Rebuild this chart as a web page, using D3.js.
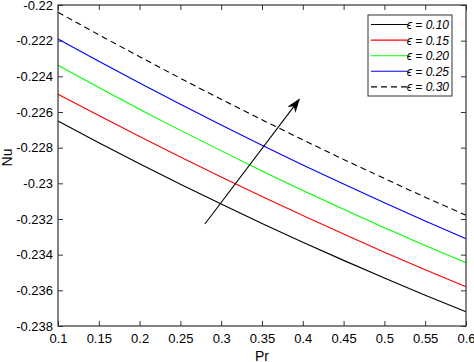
<!DOCTYPE html>
<html>
<head>
<meta charset="utf-8">
<script src="https://cdn.jsdelivr.net/npm/d3@7"></script>
<style>
  body { margin: 0; background: #fff; }
  svg { display: block; font-family: "Liberation Sans", Arial, sans-serif; }
</style>
</head>
<body>
<svg id="chart" width="474" height="362"></svg>
<script>
// Pr values
var pr = [0.1, 0.15, 0.2, 0.25, 0.3, 0.35, 0.4, 0.45, 0.5, 0.55, 0.6];

// Nu for each epsilon
var nuEps010 = [-0.22651, -0.22772, -0.22890, -0.23005, -0.23116, -0.23225, -0.23330, -0.23432, -0.23531, -0.23627, -0.23720];
var nuEps015 = [-0.22500, -0.22620, -0.22738, -0.22852, -0.22964, -0.23074, -0.23180, -0.23284, -0.23386, -0.23484, -0.23580];
var nuEps020 = [-0.22338, -0.22463, -0.22584, -0.22703, -0.22818, -0.22931, -0.23040, -0.23146, -0.23249, -0.23349, -0.23445];
var nuEps025 = [-0.22191, -0.22316, -0.22437, -0.22556, -0.22673, -0.22786, -0.22897, -0.23004, -0.23109, -0.23211, -0.23311];
var nuEps030 = [-0.22041, -0.22167, -0.22290, -0.22411, -0.22529, -0.22644, -0.22756, -0.22866, -0.22973, -0.23078, -0.23179];

var seriesNames = ["\u03f5 = 0.10", "\u03f5 = 0.15", "\u03f5 = 0.20", "\u03f5 = 0.25", "\u03f5 = 0.30"];

var xTicks = [0.1, 0.15, 0.2, 0.25, 0.3, 0.35, 0.4, 0.45, 0.5, 0.55, 0.6];
var yTicks = [-0.238, -0.236, -0.234, -0.232, -0.23, -0.228, -0.226, -0.224, -0.222, -0.22];

// arrow annotation (data coords): tail -> head
var arrowFrom = [0.28, -0.23228];
var arrowTo = [0.3957, -0.22529];

var series = [
    { name: seriesNames[0], values: nuEps010, color: "#000000", dash: null },
    { name: seriesNames[1], values: nuEps015, color: "#ff0000", dash: null },
    { name: seriesNames[2], values: nuEps020, color: "#00ff00", dash: null },
    { name: seriesNames[3], values: nuEps025, color: "#0000ff", dash: null },
    { name: seriesNames[4], values: nuEps030, color: "#000000", dash: "6,4" }
];

var svg = d3.select("#chart");
var margin = { top: 5, right: 8, bottom: 36, left: 58 };
var width = +svg.attr("width") - margin.left - margin.right;
var height = +svg.attr("height") - margin.top - margin.bottom;
var g = svg.append("g").attr("transform", "translate(" + margin.left + "," + margin.top + ")");

var x = d3.scaleLinear().domain([0.1, 0.6]).range([0, width]);
var y = d3.scaleLinear().domain([-0.238, -0.22]).range([height, 0]);

var axisColor = "#333";
var fmt = function(d) { return String(+d.toFixed(3)); };

function styleAxis(sel) {
    sel.select(".domain").remove();
    sel.selectAll(".tick line").attr("stroke", axisColor);
    sel.selectAll(".tick text").attr("fill", "#000").style("font-size", "13px");
}

// bottom axis
g.append("g")
    .attr("transform", "translate(0," + height + ")")
    .call(d3.axisBottom(x).tickValues(xTicks).tickFormat(fmt).tickSizeInner(-5).tickSizeOuter(0).tickPadding(8))
    .call(styleAxis);

// top axis (ticks only)
g.append("g")
    .call(d3.axisTop(x).tickValues(xTicks).tickFormat("").tickSizeInner(-5).tickSizeOuter(0))
    .call(styleAxis);

// left axis
g.append("g")
    .call(d3.axisLeft(y).tickValues(yTicks).tickFormat(fmt).tickSizeInner(-5).tickSizeOuter(0).tickPadding(5))
    .call(styleAxis);

// right axis (ticks only)
g.append("g")
    .attr("transform", "translate(" + width + ",0)")
    .call(d3.axisRight(y).tickValues(yTicks).tickFormat("").tickSizeInner(-5).tickSizeOuter(0))
    .call(styleAxis);

// Curves
var line = d3.line()
    .x(function(d, i) { return x(pr[i]); })
    .y(function(d) { return y(d); });

series.forEach(function(s) {
    g.append("path")
        .datum(s.values)
        .attr("fill", "none")
        .attr("stroke", s.color)
        .attr("stroke-width", 1.1)
        .attr("stroke-dasharray", s.dash)
        .attr("d", line);
});

// Frame
g.append("rect")
    .attr("width", width)
    .attr("height", height)
    .attr("fill", "none")
    .attr("stroke", axisColor)
    .attr("stroke-width", 1.2);

// Arrow
svg.append("defs").append("marker")
    .attr("id", "head")
    .attr("viewBox", "0 0 14 10")
    .attr("refX", 13)
    .attr("refY", 5)
    .attr("markerWidth", 14)
    .attr("markerHeight", 10)
    .attr("markerUnits", "userSpaceOnUse")
    .attr("orient", "auto")
    .append("path")
    .attr("d", "M0,0 L14,5 L0,10 L4,5 Z")
    .attr("fill", "#000");

g.append("line")
    .attr("x1", x(arrowFrom[0]))
    .attr("y1", y(arrowFrom[1]))
    .attr("x2", x(arrowTo[0]))
    .attr("y2", y(arrowTo[1]))
    .attr("stroke", "#000")
    .attr("stroke-width", 1.1)
    .attr("marker-end", "url(#head)");

// Legend
var legend = svg.append("g").attr("transform", "translate(368,15)");
legend.append("rect")
    .attr("width", 84)
    .attr("height", 81)
    .attr("fill", "#fff")
    .attr("stroke", axisColor)
    .attr("stroke-width", 1);

series.forEach(function(s, i) {
    var row = legend.append("g").attr("transform", "translate(0," + (9.5 + i * 15.6) + ")");
    row.append("line")
        .attr("x1", 3).attr("x2", 40)
        .attr("stroke", s.color)
        .attr("stroke-width", 1.1)
        .attr("stroke-dasharray", s.dash);
    row.append("text")
        .attr("x", 81)
        .attr("y", 4.5)
        .attr("text-anchor", "end")
        .style("font-size", "12px")
        .style("font-style", "italic")
        .text(s.name);
});

// Axis titles
svg.append("text")
    .attr("x", margin.left + x(0.35))
    .attr("y", 361)
    .attr("text-anchor", "middle")
    .style("font-size", "14px")
    .text("Pr");

svg.append("text")
    .attr("transform", "translate(12," + (margin.top + height / 2 - 8) + ") rotate(-90)")
    .attr("text-anchor", "middle")
    .style("font-size", "14px")
    .text("Nu");
</script>
</body>
</html>
